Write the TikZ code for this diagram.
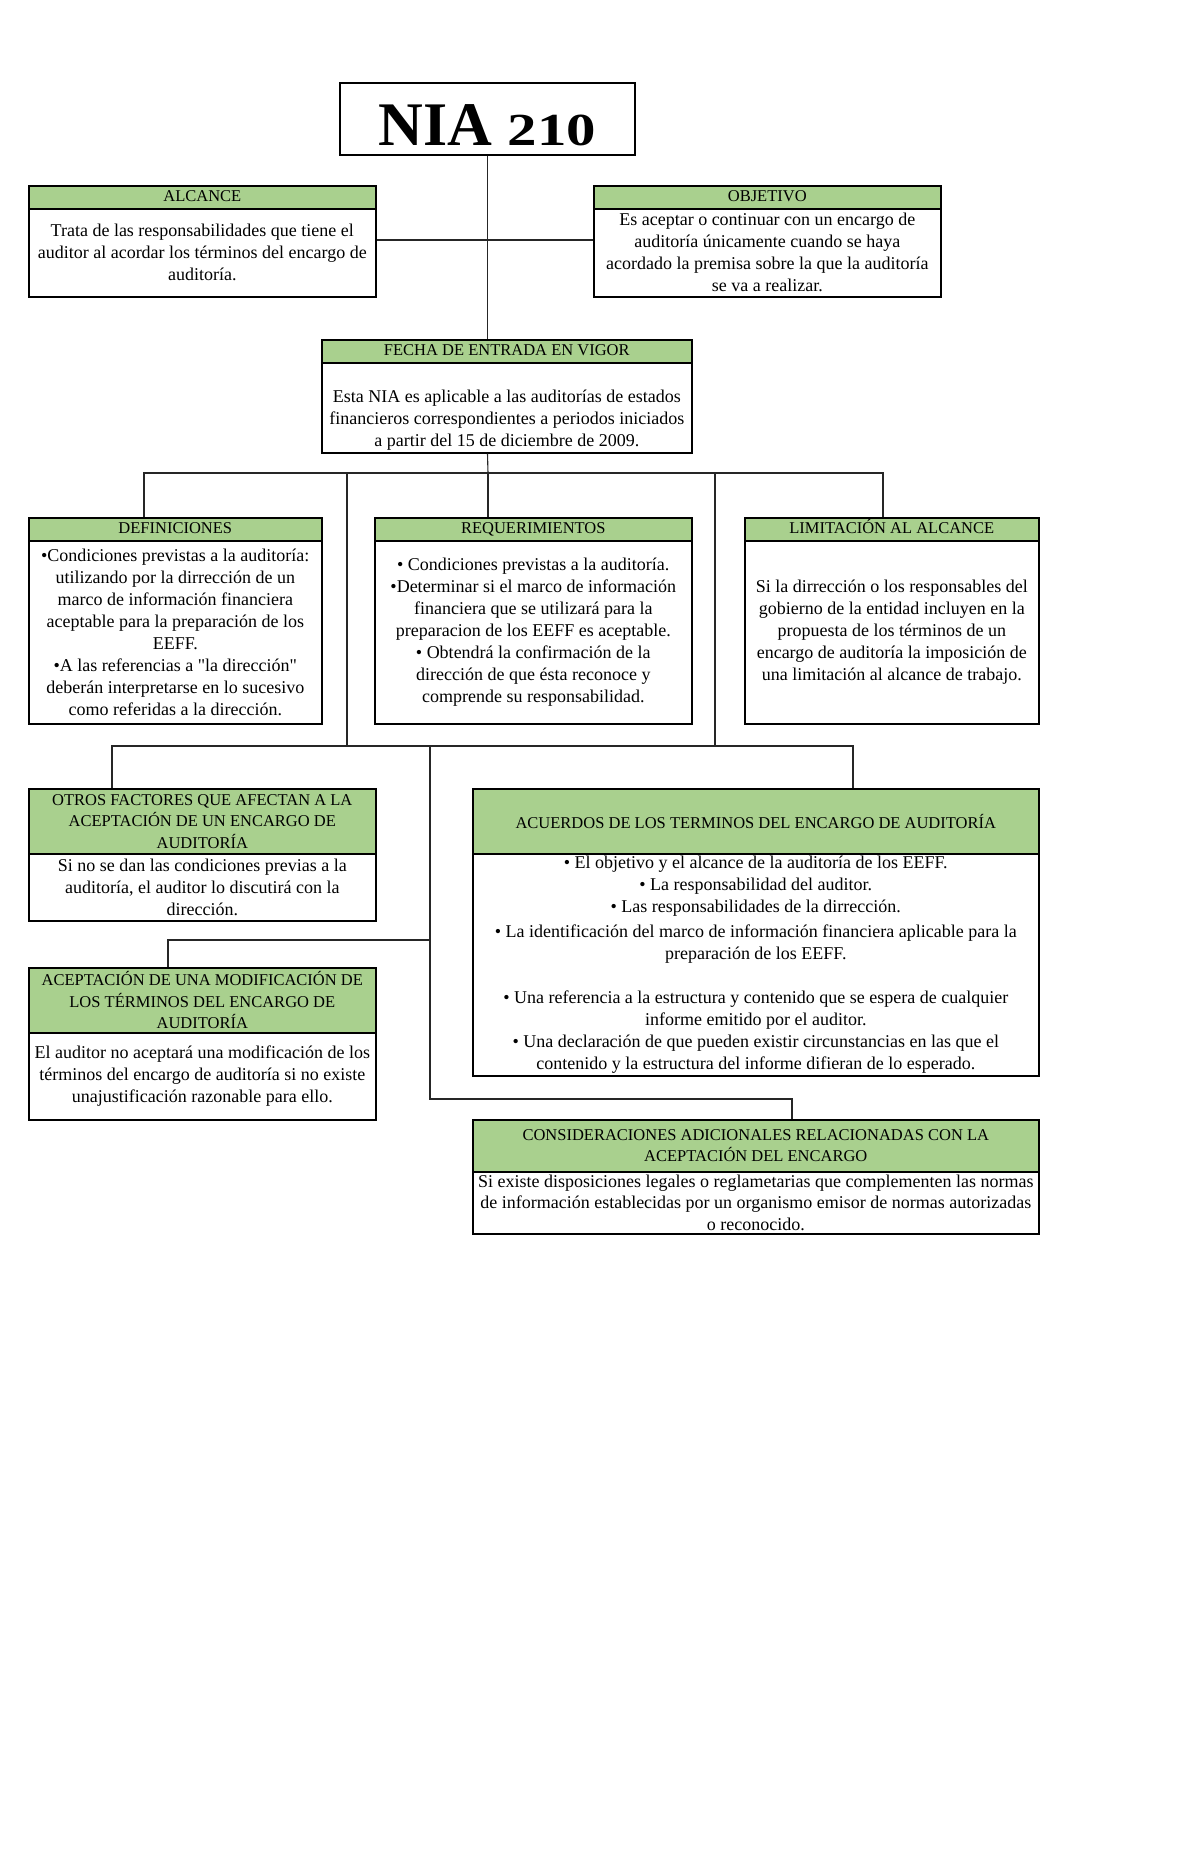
\documentclass[tikz,border=0pt]{standalone}
\usepackage{fontspec}
\setmainfont{Liberation Serif}[Ligatures=TeXOff]
\definecolor{hdrgreen}{RGB}{169,208,142}
\tikzset{
  box/.style={draw=black, line width=1.6pt, anchor=north west, inner sep=0pt, align=center,
    font=\fontsize{18}{22}\selectfont},
  hdr/.style={box, fill=hdrgreen, font=\fontsize{16.5}{21.5}\selectfont},
  hdrone/.style={hdr, text height=12pt, text depth=4pt},
  conn/.style={line width=1.1pt, draw=black!85}
}
\begin{document}
\begin{tikzpicture}[x=1pt,y=-1pt]
\fill[white] (0,0) rectangle (1200,1855);
\useasboundingbox (0,0) rectangle (1200,1855);

% title
\node[draw=black, line width=2pt, minimum width=295pt, minimum height=72pt, inner sep=0pt,
  text height=53pt, text depth=0pt,
  font=\fontsize{62}{62}\selectfont\bfseries] (title) at (487.5,119) {NIA \scalebox{0.95}[0.74]{210}};

% ALCANCE
\node[hdrone, minimum width=347pt, minimum height=23pt] (alcH) at (28,185) {ALCANCE};
\node[box, minimum width=347pt, minimum height=88pt] (alcB) at (28,208)
  {Trata de las responsabilidades que tiene el\\ auditor al acordar los términos del encargo de\\ auditoría.};

% OBJETIVO
\node[hdrone, minimum width=347pt, minimum height=23pt] (objH) at (593,185) {OBJETIVO};
\node[box, minimum width=347pt, minimum height=88pt] (objB) at (593,208)
  {Es aceptar o continuar con un encargo de\\ auditoría únicamente cuando se haya\\ acordado la premisa sobre la que la auditoría\\ se va a realizar.};

% FECHA
\node[hdrone, minimum width=370pt, minimum height=23pt] (fechaH) at (321,339) {FECHA DE ENTRADA EN VIGOR};
\node[box, minimum width=370pt, minimum height=90pt] (fechaB) at (321,362)
  {\rule{0pt}{38pt}Esta NIA es aplicable a las auditorías de estados\\ financieros correspondientes a periodos iniciados\\ a partir del 15 de diciembre de 2009.};

% DEFINICIONES
\node[hdrone, minimum width=293pt, minimum height=23pt] (defH) at (28,517) {DEFINICIONES};
\node[box, minimum width=293pt, minimum height=183pt] (defB) at (28,540)
  {•Condiciones previstas a la auditoría:\\ utilizando por la dirrección de un\\ marco de información financiera\\ aceptable para la preparación de los\\ EEFF.\\ •A las referencias a "la dirección"\\ deberán interpretarse en lo sucesivo\\ como referidas a la dirección.};

% REQUERIMIENTOS
\node[hdrone, minimum width=317pt, minimum height=23pt] (reqH) at (374,517) {REQUERIMIENTOS};
\node[box, minimum width=317pt, minimum height=183pt] (reqB) at (374,540)
  {• Condiciones previstas a la auditoría.\\ •Determinar si el marco de información\\ financiera que se utilizará para la\\ preparacion de los EEFF es aceptable.\\ • Obtendrá la confirmación de la\\ dirección de que ésta reconoce y\\ comprende su responsabilidad.};

% LIMITACION
\node[hdrone, minimum width=294pt, minimum height=23pt] (limH) at (744,517) {LIMITACIÓN AL ALCANCE};
\node[box, minimum width=294pt, minimum height=183pt] (limB) at (744,540)
  {Si la dirrección o los responsables del\\ gobierno de la entidad incluyen en la\\ propuesta de los términos de un\\ encargo de auditoría la imposición de\\ una limitación al alcance de trabajo.};

% OTROS
\node[hdr, minimum width=347pt, minimum height=65pt] (otrosH) at (28,788)
  {OTROS FACTORES QUE AFECTAN A LA\\ ACEPTACIÓN DE UN ENCARGO DE\\ AUDITORÍA};
\node[box, minimum width=347pt, minimum height=67pt] (otrosB) at (28,853)
  {Si no se dan las condiciones previas a la\\ auditoría, el auditor lo discutirá con la\\ dirección.};

% ACUERDOS
\node[hdr, minimum width=566pt, minimum height=65pt] (acuH) at (472,788)
  {ACUERDOS DE LOS TERMINOS DEL ENCARGO DE AUDITORÍA};
\node[box, minimum width=566pt, minimum height=222pt] (acuB) at (472,853)
  {• El objetivo y el alcance de la auditoría de los EEFF.\\ • La responsabilidad del auditor.\\ • Las responsabilidades de la dirrección.\\[3pt] • La identificación del marco de información financiera aplicable para la\\ preparación de los EEFF.\\ \mbox{}\\ • Una referencia a la estructura y contenido que se espera de cualquier\\ informe emitido por el auditor.\\ • Una declaración de que pueden existir circunstancias en las que el\\ contenido y la estructura del informe difieran de lo esperado.};

% ACEPTACION
\node[hdr, minimum width=347pt, minimum height=65pt] (acepH) at (28,967)
  {ACEPTACIÓN DE UNA MODIFICACIÓN DE\\ LOS TÉRMINOS DEL ENCARGO DE\\ AUDITORÍA};
\node[box, minimum width=347pt, minimum height=87pt] (acepB) at (28,1032)
  {El auditor no aceptará una modificación de los\\ términos del encargo de auditoría si no existe\\ unajustificación razonable para ello.};

% CONSIDERACIONES
\node[hdr, minimum width=566pt, minimum height=52pt] (consH) at (472,1119)
  {CONSIDERACIONES ADICIONALES RELACIONADAS CON LA\\ ACEPTACIÓN DEL ENCARGO};
\node[box, minimum width=566pt, minimum height=62pt, font=\fontsize{18}{21.5}\selectfont] (consB) at (472,1171)
  {Si existe disposiciones legales o reglametarias que complementen las normas\\ de información establecidas por un organismo emisor de normas autorizadas\\ o reconocido.};

% junction coordinates
\coordinate (yA) at (0,240);
\coordinate (j1) at (488,473);
\coordinate (bL) at (144,473);
\coordinate (bR) at (883,473);
\coordinate (c1) at (347,473);
\coordinate (c2) at (715,473);
\coordinate (d1) at (347,746);
\coordinate (d2) at (715,746);
\coordinate (b2L) at (112,746);
\coordinate (b2R) at (853,746);
\coordinate (j2) at (430,746);
\coordinate (j3) at (430,940);
\coordinate (k3) at (168,940);
\coordinate (j4) at (430,1099);
\coordinate (k4) at (792,1099);

% connectors
\draw[conn] (title.south) -- (title.south |- fechaH.north);
\draw[conn] (alcB.east |- yA) -- (objB.west |- yA);
\draw[conn] (fechaB.south -| title.south) -- (j1);
\draw[conn] (defH.north -| bL) |- (bR) -- (limH.north -| bR);
\draw[conn] (j1) -- (reqH.north -| j1);
\draw[conn] (c1) -- (d1);
\draw[conn] (c2) -- (d2);
\draw[conn] (otrosH.north -| b2L) |- (b2R) -- (acuH.north -| b2R);
\draw[conn] (j2) -- (j4) -- (k4) -- (consH.north -| k4);
\draw[conn] (j3) -- (k3) -- (acepH.north -| k3);
\end{tikzpicture}
\end{document}
